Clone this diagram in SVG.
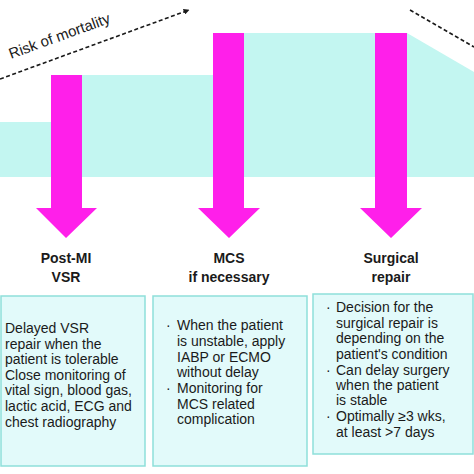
<svg xmlns="http://www.w3.org/2000/svg" width="474" height="474" viewBox="0 0 474 474">
<defs>
<style>
.band{fill:#c3f6f1}
.arr{fill:#ff1fea}
.box{fill:#e2fafa;stroke:#8edfda;stroke-width:1.5}
.lbl{font-family:"Liberation Sans",Arial,sans-serif;font-size:14px;font-weight:bold;fill:#1a1a1a;text-anchor:middle}
.txt{font-family:"Liberation Sans",Arial,sans-serif;font-size:14px;fill:#1a1a1a}
.dash{stroke:#1a1a1a;stroke-width:1.6;stroke-dasharray:4,2.5;fill:none}
</style>
<marker id="ah" viewBox="0 0 10 10" refX="9" refY="5" markerWidth="6" markerHeight="6" orient="auto" markerUnits="userSpaceOnUse">
<path d="M0,0 L10,5 L0,10 z" fill="#1a1a1a"/>
</marker>
</defs>
<g id="band">
<rect class="band" x="0" y="122" width="51" height="55"/>
<rect class="band" x="82" y="75" width="131" height="102"/>
<rect class="band" x="244" y="33" width="131" height="144"/>
<polygon class="band" points="407,33 474,72 474,177 407,177"/>
</g>
<g id="connectors">
<line class="dash" x1="0" y1="79" x2="189" y2="10" marker-end="url(#ah)"/>
<line class="dash" x1="410" y1="10" x2="474" y2="47"/>
</g>
<text class="txt" style="font-size:15px" transform="translate(11,59) rotate(-20)">Risk of mortality</text>
<g id="arrow1"><polygon class="arr" points="51,75 82,75 82,208 97,208 66,238 36,208 51,208"/></g>
<g id="arrow2"><polygon class="arr" points="213,33 244,33 244,208 260,208 229,238 198,208 213,208"/></g>
<g id="arrow3"><polygon class="arr" points="375,33 407,33 407,208 422,208 391,238 360,208 375,208"/></g>
<g id="label1"><text class="lbl" x="66" y="263">Post-MI</text><text class="lbl" x="66" y="282">VSR</text></g>
<g id="label2"><text class="lbl" x="229" y="263">MCS</text><text class="lbl" x="229" y="282">if necessary</text></g>
<g id="label3"><text class="lbl" x="391" y="263">Surgical</text><text class="lbl" x="391" y="282">repair</text></g>
<g id="box1">
<rect class="box" x="1" y="296" width="144" height="170"/>
<text class="txt" x="5" y="333">Delayed VSR</text>
<text class="txt" x="5" y="349">repair when the</text>
<text class="txt" x="5" y="364">patient is tolerable</text>
<text class="txt" x="5" y="380">Close monitoring of</text>
<text class="txt" x="5" y="395">vital sign, blood gas,</text>
<text class="txt" x="5" y="411">lactic acid, ECG and</text>
<text class="txt" x="5" y="427">chest radiography</text>
</g>
<g id="box2">
<rect class="box" x="153" y="296" width="154" height="170"/>
<text class="txt" x="166" y="330">·</text><text class="txt" x="177" y="330">When the patient</text>
<text class="txt" x="177" y="346">is unstable, apply</text>
<text class="txt" x="177" y="362">IABP or ECMO</text>
<text class="txt" x="177" y="377">without delay</text>
<text class="txt" x="166" y="393">·</text><text class="txt" x="177" y="393">Monitoring for</text>
<text class="txt" x="177" y="409">MCS related</text>
<text class="txt" x="177" y="424">complication</text>
</g>
<g id="box3">
<rect class="box" x="313" y="294" width="160" height="160"/>
<text class="txt" x="326" y="312">·</text><text class="txt" x="336" y="312">Decision for the</text>
<text class="txt" x="336" y="328">surgical repair is</text>
<text class="txt" x="336" y="343">depending on the</text>
<text class="txt" x="336" y="359">patient's condition</text>
<text class="txt" x="326" y="375">·</text><text class="txt" x="336" y="375">Can delay surgery</text>
<text class="txt" x="336" y="390">when the patient</text>
<text class="txt" x="336" y="405">is stable</text>
<text class="txt" x="326" y="421">·</text><text class="txt" x="336" y="421">Optimally ≥3 wks,</text>
<text class="txt" x="336" y="437">at least &gt;7 days</text>
</g>
</svg>
